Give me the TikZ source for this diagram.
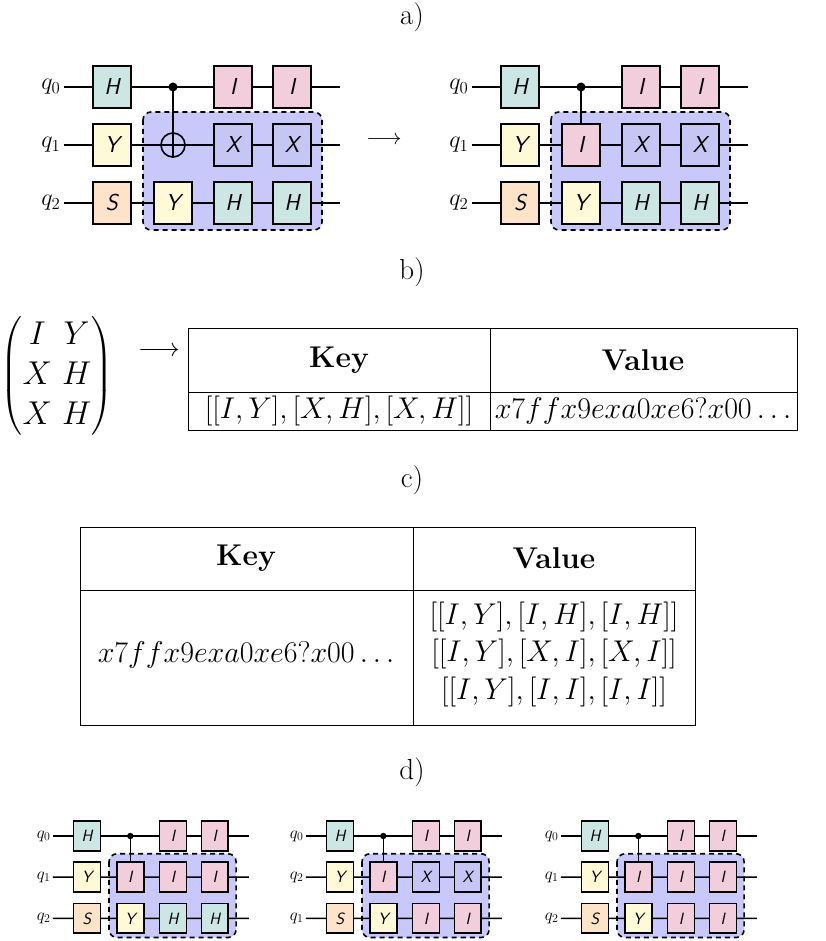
\RequirePackage{fix-cm}
\documentclass[tikz,border=0pt]{standalone}
\usepackage{amsmath}
\usepackage{fontspec}
\usetikzlibrary{calc}
\definecolor{gH}{HTML}{CBE6E3}
\definecolor{gY}{HTML}{FFFAD6}
\definecolor{gS}{HTML}{FDE3C8}
\definecolor{gI}{HTML}{F2CDDB}
\definecolor{gX}{HTML}{C6C6F4}
\definecolor{boxblue}{HTML}{C8C8FA}
\tikzset{
    gate/.style={draw, line width=1.6pt, fill=g#1, minimum width=38pt, minimum height=42pt,
        inner sep=0pt, font=\fontsize{23}{26}\selectfont\sffamily\itshape},
    wire/.style={line width=1.6pt},
    qlabel/.style={anchor=east, font=\fontsize{24}{28}\selectfont},
    subbox/.style={draw, dash pattern=on 5pt off 4pt, line width=1.6pt, fill=boxblue, rounded corners=8pt},
    part/.style={font=\fontsize{29}{34}\selectfont},
    cell/.style={font=\fontsize{30}{36}\selectfont}
}
% circuit with a controlled I: position, scale, labels q1/q2 rows, gates of row 1 and 2
\newcommand{\gatecirc}[8]{
    \begin{scope}[shift={#1}, scale=#2, transform shape]
        \draw[subbox] (31,25) rectangle (210,143);
        \node[qlabel] (l0) at (-48,0) {$q_0$};
        \node[qlabel] (l1) at (-48,58) {$#3$};
        \node[qlabel] (l2) at (-48,116) {$#4$};
        \foreach \r in {0,1,2} {
            \coordinate (e\r) at (228,58*\r);
            \draw[wire] (-48,58*\r) -- (e\r);
        }
        \node[gate=H] (h0) at (0,0) {H};
        \node[gate=Y] (y1) at (0,58) {Y};
        \node[gate=S] (s2) at (0,116) {S};
        \node[gate=I] (a1) at (61,58) {I};
        \node[gate=Y] (a2) at (61,116) {Y};
        \node[gate=I] (b0) at (121,0) {I};
        \node[gate=#5] (b1) at (121,58) {#5};
        \node[gate=#7] (b2) at (121,116) {#7};
        \node[gate=I] (c0) at (180,0) {I};
        \node[gate=#6] (c1) at (180,58) {#6};
        \node[gate=#8] (c2) at (180,116) {#8};
        \fill (61,0) circle (4.5pt) coordinate (ctrl);
        \draw[wire] (ctrl) -- (a1.north);
    \end{scope}
}

\begin{document}
\begin{tikzpicture}[x=1pt, y=-1pt]
    \useasboundingbox (0,0) rectangle (825,941);

    % a)
    \node[part] (ta) at (412,17) {a)};
    \begin{scope}[shift={(112,87)}]
        \draw[subbox] (31,25) rectangle (210,143);
        \node[qlabel] (l0) at (-48,0) {$q_0$};
        \node[qlabel] (l1) at (-48,58) {$q_1$};
        \node[qlabel] (l2) at (-48,116) {$q_2$};
        \foreach \r in {0,1,2} {
            \coordinate (e\r) at (228,58*\r);
            \draw[wire] (-48,58*\r) -- (e\r);
        }
        \node[gate=H] (h0) at (0,0) {H};
        \node[gate=Y] (y1) at (0,58) {Y};
        \node[gate=S] (s2) at (0,116) {S};
        \node[gate=Y] (a2) at (61,116) {Y};
        \node[gate=I] (b0) at (121,0) {I};
        \node[gate=X] (b1) at (121,58) {X};
        \node[gate=H] (b2) at (121,116) {H};
        \node[gate=I] (c0) at (180,0) {I};
        \node[gate=X] (c1) at (180,58) {X};
        \node[gate=H] (c2) at (180,116) {H};
        \node[draw, circle, line width=1.6pt, minimum size=24pt, inner sep=0pt] (targ) at (61,58) {};
        \draw[wire] (targ.west) -- (targ.east);
        \fill (61,0) circle (4.5pt) coordinate (ctrl);
        \draw[wire] (ctrl) -- (targ.south);
    \end{scope}
    \node[font=\fontsize{22}{26}\selectfont] (arra) at (384,140) {$\longrightarrow$};
    \gatecirc{(520,87)}{1}{q_1}{q_2}{X}{X}{H}{H}

    % b)
    \node[part] (tb) at (412,272) {b)};
    \node[font=\fontsize{33}{40}\selectfont] (mat) at (57,376)
        {$\begin{pmatrix} I & Y\\ X & H\\ X & H\end{pmatrix}$};
    \node[font=\fontsize{26}{30}\selectfont] (arrb) at (159,352) {$\longrightarrow$};
    \draw[line width=1pt] (188,328) rectangle (797,430);
    \draw[line width=1pt] (490,328) -- (490,430);
    \draw[line width=1pt] (188,392) -- (797,392);
    \node[cell] (kb) at (339,360) {\textbf{Key}};
    \node[cell] (vb) at (643,360) {\textbf{Value}};
    \node[cell] (kvb) at (339,411) {$[[I,Y],[X,H],[X,H]]$};
    \node[cell] (vvb) at (643,411) {$x7ffx9exa0xe6?x00\ldots$};

    % c)
    \node[part] (tc) at (412,480) {c)};
    \draw[line width=1pt] (80,527) rectangle (695,725);
    \draw[line width=1pt] (413,527) -- (413,725);
    \draw[line width=1pt] (80,590) -- (695,590);
    \node[cell] (kc) at (246,558) {\textbf{Key}};
    \node[cell] (vc) at (554,558) {\textbf{Value}};
    \node[cell] (kvc) at (246,655) {$x7ffx9exa0xe6?x00\ldots$};
    \node[cell] (v1) at (554,617) {$[[I,Y],[I,H],[I,H]]$};
    \node[cell] (v2) at (554,654) {$[[I,Y],[X,I],[X,I]]$};
    \node[cell] (v3) at (554,692) {$[[I,Y],[I,I],[I,I]]$};

    % d)
    \node[part] (td) at (412,772) {d)};
    \gatecirc{(87,836)}{0.71}{q_1}{q_2}{I}{I}{H}{H}
    \gatecirc{(340,836)}{0.71}{q_2}{q_1}{X}{X}{I}{I}
    \gatecirc{(595,836)}{0.71}{q_1}{q_2}{I}{I}{I}{I}
\end{tikzpicture}
\end{document}
